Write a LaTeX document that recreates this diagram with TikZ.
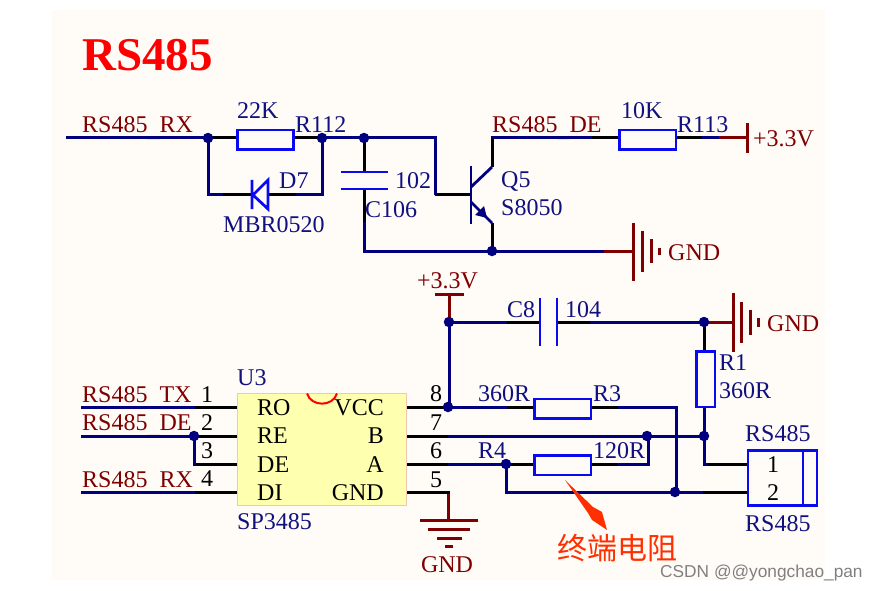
\documentclass[tikz,border=0pt]{standalone}
\usepackage{fontspec}
\setmainfont{Liberation Serif}
\newfontfamily\cjk{Noto Sans CJK SC}
\newfontfamily\wm{Liberation Sans}
\definecolor{nvy}{HTML}{00007F}
\definecolor{drd}{HTML}{7F0000}
\definecolor{cblue}{HTML}{0A0AF0}
\definecolor{lbl}{HTML}{10107F}
\definecolor{paper}{HTML}{FFFCF8}
\definecolor{icfill}{HTML}{FFFFB0}
\definecolor{icline}{HTML}{F0C8B0}
\definecolor{arr}{HTML}{FF3000}
\newcommand{\usc}{\raisebox{-3.2pt}{\_}}
\tikzset{
  x=1pt,y=-1pt,
  wire/.style={draw=nvy,line width=3pt,line cap=butt,line join=miter},
  pin/.style={draw=black,line width=3pt},
  pwr/.style={draw=drd,line width=3pt},
  part/.style={draw=cblue,line width=2.8pt},
  res/.style={part,rectangle,fill=paper,inner sep=0pt,outer sep=0pt,anchor=north west},
  jn/.style={circle,fill=nvy,inner sep=0pt,minimum size=10.5pt},
  txt/.style={font=\fontsize{24}{24}\selectfont,inner sep=0pt,anchor=base west},
  nl/.style={txt,text=drd},
  cl/.style={txt,text=lbl},
  bl/.style={txt,text=black},
  ctr/.style={anchor=base},
  rgt/.style={anchor=base east},
}
\begin{document}
\begin{tikzpicture}
\useasboundingbox (0,0) rectangle (876,591);
\fill[paper] (52,10) rectangle (825,580);
% texts under wires
\node[txt,text=red,font=\fontsize{47}{47}\selectfont\bfseries] (title) at (82,71) {RS485};
\node[nl] (n1) at (82,133) {RS485\usc RX};
\node[nl] (n2) at (492,133) {RS485\usc DE};
\node[nl] (n3) at (82,402) {RS485\usc TX};
\node[nl] (n4) at (82,430) {RS485\usc DE};
\node[nl] (n5) at (82,487) {RS485\usc RX};
% coordinates
\coordinate (rxs) at (66,138);
\coordinate (ja) at (208,138);
\coordinate (jb) at (322,138);
\coordinate (jc) at (364,138);
\coordinate (jd) at (492,251);
\coordinate (bend) at (435,138);
\coordinate (basein) at (435,195);
\coordinate (baseb) at (471,195);
\coordinate (coll) at (492,138);
\coordinate (pde) at (747,138);
\coordinate (gnd1) at (633,251);
\coordinate (gnd2) at (733,322);
\coordinate (gnd3) at (448,520);
\coordinate (pv2) at (449,294);
% top circuit
\draw[wire] (rxs) -- (ja) (jb) -- (bend) -- (435,195);
\draw[pin] (ja) -- (238,138) (293,138) -- (jb);
\draw[wire] (ja) |- (223,195) (296,195) -| (jb);
\draw[pin] (223,195) -- (252,195) (267,195) -- (296,195);
\draw[pin] (jc) -- (364,172) (364,189) -- (364,222);
\draw[wire] (364,222) |- (604,251);
\draw[pwr] (604,251) -- (gnd1);
\draw[pin] (basein) -- (baseb);
\draw[wire] (490.5,138) -- (592,138);
\draw[pin] (592,138) -- (620,138) (676,138) -- (702,138);
\draw[wire] (702,138) -- (719,138);
\draw[pwr] (719,138) -- (pde);
\draw[pin] (coll) -- (492,167) (492,223) -- (jd);
% parts
\node[res,minimum width=56.2pt,minimum height=19.5pt] (R112) at (237.4,130) {};
\node[res,minimum width=56.2pt,minimum height=19.5pt] (R113) at (619.7,130) {};
\draw[part] (252,180) -- (252,209) (268,180) -- (268,209) -- (253,195) -- cycle;
\draw[part] (341,172) -- (388,172) (341,189) -- (388,189);
\draw[draw=nvy,line width=2.8pt] (471,166) -- (471,224);
\draw[draw=nvy,line width=2.8pt] (492,167) -- (471,187) (471,202) -- (492,223);
\fill[nvy] (487,218) -- (475,215) -- (484,206) -- cycle;
% power symbols
\draw[pwr] (733,293) -- (733,352) (741,302) -- (741,343) (750,310) -- (750,335) (758,318) -- (758,327);
\draw[pwr] (633,223) -- (633,281) (642,231) -- (642,272) (651,239) -- (651,263) (659,248) -- (659,255);
\draw[pwr] (747,123) -- (747,153);
\draw[pwr] (435,294) -- (464,294) (pv2) -- (449,322);
\draw[pwr] (448,492) -- (gnd3);
\draw[pwr] (420,520) -- (478,520) (428,529) -- (470,529) (437,538) -- (462,538) (445,546) -- (453,546);
% IC wires
\draw[wire] (81,407) -- (195,407) (81,436) -- (195,436) (81,492) -- (195,492);
\draw[pin] (195,407) -- (237,407) (195,436) -- (237,436) (195,492) -- (237,492);
\draw[wire] (194,436) -- (194,465.5);
\draw[pin] (195.5,464) -- (237,464);
\draw[pin] (406,407) -- (448,407) (406,436) -- (448,436) (406,464) -- (448,464) (406,492) -- (449.5,492);
\node[rectangle,draw=icline,line width=1pt,fill=icfill,minimum width=169pt,minimum height=112pt,anchor=north west,inner sep=0pt,outer sep=0pt] (U3) at (237,393) {};
\draw[draw=red,line width=2pt] (307,393.5) .. controls (311,407) and (333,407) .. (337,393.5);
% right wires
\draw[wire] (449,322) -- (449,407);
\draw[wire] (449,322) -- (507,322) (590,322) -- (704,322);
\draw[pin] (507,322) -- (540,322) (557,322) -- (590,322);
\draw[pwr] (704,322) -- (gnd2);
\draw[part] (540,298) -- (540,346) (557,298) -- (557,346);
\draw[pin] (704,322) -- (704,351);
\draw[wire] (704,407) -- (704,464) -- (708,464);
\draw[pin] (708,464) -- (748,464);
\draw[wire] (448,407) -- (507,407);
\draw[pin] (507,407) -- (535,407) (591,407) -- (618,407);
\draw[wire] (618,407) -- (676,407) -- (676,492);
\draw[wire] (448,436) -- (704,436);
\draw[wire] (448,464) -- (506,464);
\draw[pin] (506,464) -- (535,464) (591,464) -- (618,464);
\draw[wire] (618,464) -- (648,464) -- (648,436);
\draw[wire] (506,464) -- (506,493.5);
\draw[wire] (504.5,492) -- (703,492);
\draw[pin] (703,492) -- (748,492);
\node[res,minimum width=18.6pt,minimum height=55.6pt] (R1) at (696.4,351.4) {};
\node[res,minimum width=56.3pt,minimum height=19.3pt] (R3) at (534.7,399) {};
\node[res,minimum width=56.3pt,minimum height=19.3pt] (R4) at (534.7,455.7) {};
\node[res,minimum width=69pt,minimum height=55pt] (J1) at (748,450.5) {};
\draw[part] (803,450.5) -- (803,505.5);
% junctions
\node[jn] (j1) at (208,138) {};
\node[jn] (j2) at (322,138) {};
\node[jn] (j3) at (364,138) {};
\node[jn] (j4) at (492,251) {};
\node[jn] (j5) at (449,322) {};
\node[jn] (j6) at (704,322) {};
\node[jn] (j7) at (194,436) {};
\node[jn] (j8) at (448,407) {};
\node[jn] (j9) at (647,436) {};
\node[jn] (j10) at (704,436) {};
\node[jn] (j11) at (506,464) {};
\node[jn] (j12) at (675,492) {};
% component labels
\node[cl] at (237,119) {22K};
\node[cl] at (295,133) {R112};
\node[cl] at (279,189) {D7};
\node[cl] at (223,232) {MBR0520};
\node[cl] at (395,189) {102};
\node[cl] at (365,217) {C106};
\node[cl] at (501,187) {Q5};
\node[cl] at (501,215) {S8050};
\node[cl] at (621,119) {10K};
\node[cl] at (677,133) {R113};
\node[nl] at (753,147) {+3.3V};
\node[nl] at (668,260) {GND};
\node[nl] at (417,288) {+3.3V};
\node[cl] at (507,317) {C8};
\node[cl] at (565,317) {104};
\node[nl] at (767,331) {GND};
\node[cl] at (719,370) {R1};
\node[cl] at (719,398) {360R};
\node[cl] at (478,401) {360R};
\node[cl] at (593,401) {R3};
\node[cl] at (478,458) {R4};
\node[cl] at (593,458) {120R};
\node[cl] at (745,441) {RS485};
\node[cl] at (745,531) {RS485};
\node[bl,ctr] at (773,472) {1};
\node[bl,ctr] at (773,500) {2};
\node[cl] at (237,385) {U3};
\node[cl] at (237,529) {SP3485};
\node[nl,ctr] at (447,572) {GND};
\node[bl] at (257,415) {RO};
\node[bl] at (257,443) {RE};
\node[bl] at (257,472) {DE};
\node[bl] at (257,500) {DI};
\node[bl,rgt] at (384,415) {VCC};
\node[bl,rgt] at (384,443) {B};
\node[bl,rgt] at (384,472) {A};
\node[bl,rgt] at (384,500) {GND};
\foreach \t/\x/\y in {1/207/402,2/207/430,3/207/458,4/207/486,8/436/401,7/436/430,6/436/458,5/436/487}
  \node[bl,ctr] at (\x,\y) {\t};
% annotation
\fill[arr] (565,480) -- (593,507) -- (602,512) -- (607,530) -- (592,520) -- (588,513) -- cycle;
\node[anchor=base west,inner sep=0pt,text=arr,font=\cjk\fontsize{30}{30}\selectfont] at (557,559) {终端电阻};
\node[anchor=base west,inner sep=0pt,text=black!50,font=\wm\fontsize{17.3}{17.3}\selectfont] at (660,577.5) {CSDN @@yongchao\_pan};
\end{tikzpicture}
\end{document}
